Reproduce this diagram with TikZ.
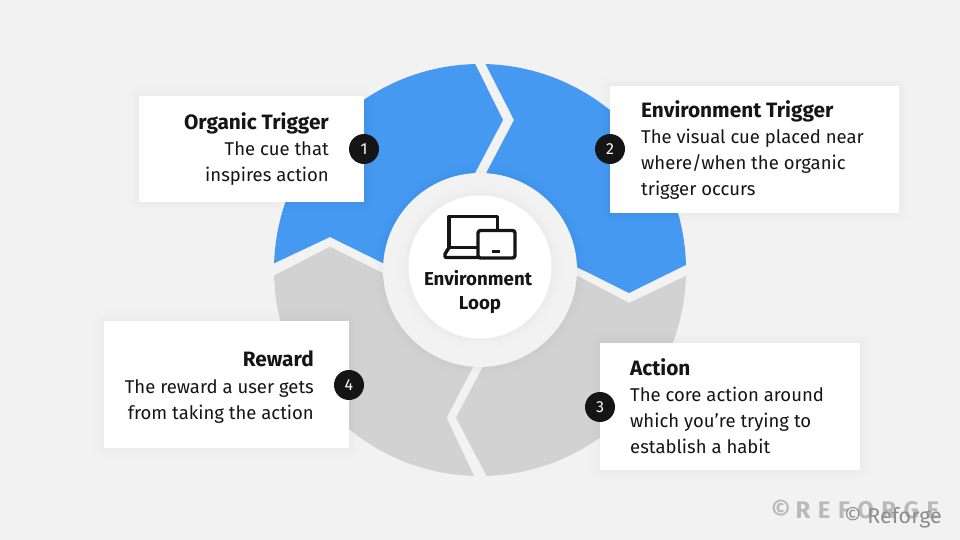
\documentclass[tikz,border=0pt]{standalone}
\usepackage{fontspec}
\setmainfont{Fira Sans}
\definecolor{bgc}{HTML}{F2F2F2}
\definecolor{bluec}{HTML}{4599F0}
\definecolor{greyc}{HTML}{D2D2D2}
\definecolor{inkc}{HTML}{151515}
\tikzset{
  softshadow/.style={
    preaction={draw=black,draw opacity=.005,line width=22pt,line join=round},
    preaction={draw=black,draw opacity=.005,line width=16pt,line join=round},
    preaction={draw=black,draw opacity=.006,line width=10pt,line join=round},
    preaction={draw=black,draw opacity=.008,line width=5pt,line join=round}},
  cardbox/.style={fill=white,draw=none,softshadow},
  badge/.style={circle,fill=inkc,text=white,minimum size=30pt,inner sep=0pt,font=\fontsize{16}{16}\selectfont},
  titletext/.style={inner sep=0pt,text=inkc,font=\fontsize{20.8}{24}\selectfont\bfseries},
  bodytext/.style={inner sep=0pt,text=inkc,font=\fontsize{18.5}{24}\selectfont},
  centertext/.style={inner sep=0pt,text=inkc,anchor=base,font=\fontsize{18.7}{20}\selectfont\bfseries},
  iconline/.style={draw=inkc,line width=3.4pt,line join=round}
}
\begin{document}
\begin{tikzpicture}[x=1pt,y=-1pt]
\useasboundingbox (0,0) rectangle (960,540);
\fill[bgc] (0,0) rectangle (960,540);
% wheel
\begin{scope}
\clip (480,270) circle[radius=206];
\fill[bluec] (480,270) -- (475,173) -- (503,120) -- (475.7,65) -- (460,35) -- (200,35) -- (200,298) -- (274.7,263) -- (330,237) -- (382.7,263) -- cycle;
\fill[bluec] (480,270) -- (486.7,172) -- (514,120) -- (486,65) -- (470,35) -- (720,35) -- (720,246) -- (685.7,265) -- (629,293) -- (576.7,267) -- cycle;
\fill[greyc] (480,270) -- (578,276) -- (629,303) -- (685.7,276) -- (720,260) -- (720,510) -- (505,510) -- (486,475) -- (456,417.7) -- (482.7,367) -- cycle;
\fill[greyc] (480,270) -- (382.7,273) -- (330,246.7) -- (275,275) -- (240,293) -- (240,510) -- (492,510) -- (473,474) -- (446.7,417.7) -- (473,367) -- cycle;
\end{scope}
% hub
\fill[bgc,softshadow] (480,270) circle[radius=97];
\fill[white,softshadow] (480,267) circle[radius=71.5];
% icon
\draw[iconline] (477,247.5) -- (449,247.5) -- (449,216.5) -- (497.5,216.5) -- (497.5,229);
\draw[iconline] (449,247.5) -- (445,254) -- (445,256.5) -- (446,257.5) -- (478,257.5);
\draw[iconline,rounded corners=2.5pt,fill=white] (478,230.5) rectangle (515,258);
\fill[inkc] (492,250) rectangle (500,253);
\node[centertext] (c1) at (478,285) {Environment};
\node[centertext] (c2) at (480,309) {Loop};
% cards
\node[cardbox,minimum width=225pt,minimum height=105pt,inner sep=0pt] (card1) at (251.5,149) {};
\node[cardbox,minimum width=289pt,minimum height=127pt,inner sep=0pt] (card2) at (754.5,149.5) {};
\node[cardbox,minimum width=260pt,minimum height=127pt,inner sep=0pt] (card3) at (730,406.5) {};
\node[cardbox,minimum width=245pt,minimum height=127pt,inner sep=0pt] (card4) at (226.5,384.5) {};
% badges
\node[badge] (b1) at (364,149) {1};
\node[badge] (b2) at (610,149) {2};
\node[badge] (b3) at (600,407) {3};
\node[badge] (b4) at (349,385) {4};
% text 1
\node[titletext,anchor=base east] (t1a) at (329,130) {Organic Trigger};
\node[bodytext,anchor=base east] (t1b) at (329,156) {The cue that};
\node[bodytext,anchor=base east] (t1c) at (329,182) {inspires action};
% text 2
\node[titletext,anchor=base west] (t2a) at (641,118) {Environment Trigger};
\node[bodytext,anchor=base west] (t2b) at (641,144) {The visual cue placed near};
\node[bodytext,anchor=base west] (t2c) at (641,170) {where/when the organic};
\node[bodytext,anchor=base west] (t2d) at (641,196) {trigger occurs};
% text 3
\node[titletext,anchor=base west] (t3a) at (630,375) {Action};
\node[bodytext,anchor=base west] (t3b) at (630,401) {The core action around};
\node[bodytext,anchor=base west] (t3c) at (630,427) {which you’re trying to};
\node[bodytext,anchor=base west] (t3d) at (630,453) {establish a habit};
% text 4
\node[titletext,anchor=base east] (t4a) at (314,366) {Reward};
\node[bodytext,anchor=base east] (t4b) at (314,393) {The reward a user gets};
\node[bodytext,anchor=base east] (t4c) at (314,419) {from taking the action};
% watermark
\node[inner sep=0pt,anchor=base west,text=black!27,font=\fontsize{24}{24}\selectfont\bfseries] (w1) at (771,518.5) {©\hspace{5pt}R\hspace{7.5pt}E\hspace{7.5pt}F\hspace{7.5pt}O\hspace{7.5pt}R\hspace{7.5pt}G\hspace{7.5pt}E};
\node[inner sep=0pt,anchor=base west,text=black!45,font=\fontsize{21.5}{21.5}\selectfont] (w2) at (844,523) {© Reforge};
\end{tikzpicture}
\end{document}
